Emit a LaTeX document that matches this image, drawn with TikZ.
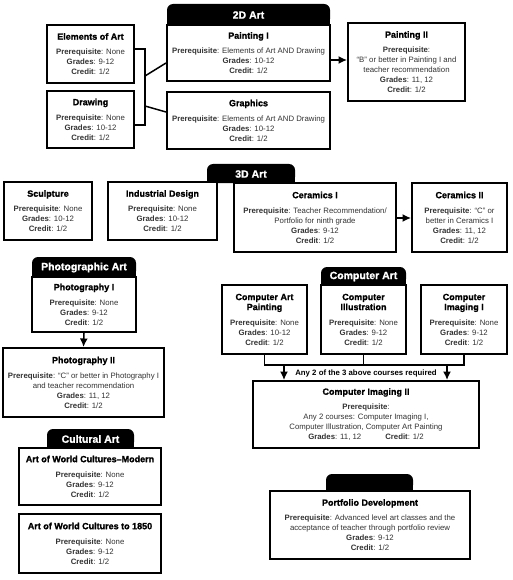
\documentclass[tikz,border=0pt]{standalone}
\usepackage{fontspec}
\setmainfont{Liberation Sans}
\newfontfamily\heavy{Liberation Sans Bold}[FakeBold=1.2]
\usetikzlibrary{arrows.meta}
\newcommand{\ttl}[1]{{\color{black}\fontsize{9}{10.5}\selectfont\heavy #1}}
\newcommand{\BX}[6]{\node[box, minimum width={#4-#2}, minimum height={#5-#3}] (#1) at ({(#2+#4)/2},{(#3+#5)/2}) {#6};}
\newcommand{\TB}[6]{%
  \fill[rounded corners=6pt] (#2,#3) rectangle (#4,#5);
  \fill (#2,{#5-7}) rectangle (#4,#5);
  \node[tablbl] (#1) at ({(#2+#4)/2},{(#3+#5)/2+0.5}) {#6};}
\begin{document}
\begin{tikzpicture}[x=1pt,y=-1pt,
  box/.style={draw, line width=2pt, fill=white, align=center, inner sep=0pt,
    font=\fontsize{7.8}{10}\selectfont, text=black!80},
  tablbl/.style={text=white, font=\fontsize{10.5}{12}\selectfont\heavy, inner sep=0pt},
  conn/.style={line width=1.5pt},
  arr/.style={line width=1.5pt, -{Latex[length=8.5pt,width=8pt]}}]
\useasboundingbox (0,0) rectangle (512,580);
\fill[white] (0,0) rectangle (512,580);
% tabs
\TB{t2d}{167}{4}{330}{25}{2D Art}
\TB{t3d}{207}{164}{295}{183}{3D Art}
\TB{tph}{32}{257}{136}{277}{Photographic Art}
\TB{tca}{321}{267}{406}{285}{Computer Art}
\TB{tcu}{47}{429}{134}{448}{Cultural Art}
\TB{tpo}{326}{474}{413}{491}{}
% boxes
\BX{elem}{47}{25}{134}{83}{\ttl{Elements of Art}\\[5pt]\textbf{Prerequisite}: None\\\textbf{Grades}: 9-12\\\textbf{Credit}: 1/2}
\BX{drw}{47}{91}{134}{148}{\ttl{Drawing}\\[5pt]\textbf{Prerequisite}: None\\\textbf{Grades}: 10-12\\\textbf{Credit}: 1/2}
\BX{paint1}{167}{25}{330}{81}{\ttl{Painting I}\\[5pt]\textbf{Prerequisite}: Elements of Art AND Drawing\\\textbf{Grades}: 10-12\\\textbf{Credit}: 1/2}
\BX{graph}{167}{92}{330}{149}{\ttl{Graphics}\\[5pt]\textbf{Prerequisite}: Elements of Art AND Drawing\\\textbf{Grades}: 10-12\\\textbf{Credit}: 1/2}
\BX{paint2}{348}{23}{465}{101}{\ttl{Painting II}\\[5pt]\textbf{Prerequisite}:\\“B” or better in Painting I and\\teacher recommendation\\\textbf{Grades}: 11, 12\\\textbf{Credit}: 1/2}
\BX{sculp}{4}{182}{92}{240}{\ttl{Sculpture}\\[5pt]\textbf{Prerequisite}: None\\\textbf{Grades}: 10-12\\\textbf{Credit}: 1/2}
\BX{indus}{108}{182}{217}{240}{\ttl{Industrial Design}\\[5pt]\textbf{Prerequisite}: None\\\textbf{Grades}: 10-12\\\textbf{Credit}: 1/2}
\BX{cer1}{234}{183}{396}{252}{\ttl{Ceramics I}\\[5pt]\textbf{Prerequisite}: Teacher Recommendation/\\Portfolio for ninth grade\\\textbf{Grades}: 9-12\\\textbf{Credit}: 1/2}
\BX{cer2}{412}{183}{507}{252}{\ttl{Ceramics II}\\[5pt]\textbf{Prerequisite}: “C” or\\better in Ceramics I\\\textbf{Grades}: 11, 12\\\textbf{Credit}: 1/2}
\BX{photo1}{32}{277}{136}{332}{\ttl{Photography I}\\[5pt]\textbf{Prerequisite}: None\\\textbf{Grades}: 9-12\\\textbf{Credit}: 1/2}
\BX{photo2}{3}{348}{164}{417}{\ttl{Photography II}\\[5pt]\textbf{Prerequisite}: “C” or better in Photography I\\and teacher recommendation\\\textbf{Grades}: 11, 12\\\textbf{Credit}: 1/2}
\BX{cap}{222}{285}{307}{354}{\ttl{Computer Art}\\\ttl{Painting}\\[5pt]\textbf{Prerequisite}: None\\\textbf{Grades}: 10-12\\\textbf{Credit}: 1/2}
\BX{cill}{321}{285}{406}{354}{\ttl{Computer}\\\ttl{Illustration}\\[5pt]\textbf{Prerequisite}: None\\\textbf{Grades}: 9-12\\\textbf{Credit}: 1/2}
\BX{cim1}{421}{285}{507}{354}{\ttl{Computer}\\\ttl{Imaging I}\\[5pt]\textbf{Prerequisite}: None\\\textbf{Grades}: 9-12\\\textbf{Credit}: 1/2}
\BX{cim2}{253}{381}{479}{448}{\ttl{Computer Imaging II}\\[5pt]\textbf{Prerequisite}:\\Any 2 courses: Computer Imaging I,\\Computer Illustration, Computer Art Painting\\\textbf{Grades}: 11, 12\hspace{24pt}\textbf{Credit}: 1/2}
\BX{awcm}{19}{448}{161}{505}{\ttl{Art of World Cultures–Modern}\\[5pt]\textbf{Prerequisite}: None\\\textbf{Grades}: 9-12\\\textbf{Credit}: 1/2}
\BX{awc}{19}{514}{161}{573}{\ttl{Art of World Cultures to 1850}\\[5pt]\textbf{Prerequisite}: None\\\textbf{Grades}: 9-12\\\textbf{Credit}: 1/2}
\BX{port}{270}{491}{470}{559}{\ttl{Portfolio Development}\\[5pt]\textbf{Prerequisite}: Advanced level art classes and the\\acceptance of teacher through portfolio review\\\textbf{Grades}: 9-12\\\textbf{Credit}: 1/2}
% connectors
\coordinate (b1) at (145,49);
\coordinate (b2) at (145,125);
\coordinate (bm1) at (145,76);
\coordinate (bm2) at (145,106);
\coordinate (p1a) at (0,63);
\coordinate (g1a) at (0,112);
\draw[conn] (elem.east |- b1) -- (b1) -- (b2) -- (drw.east |- b2);
\draw[conn] (bm1) -- (paint1.west |- p1a);
\draw[conn] (bm2) -- (graph.west |- g1a);
\coordinate (a1) at (0,60);
\draw[arr] (paint1.east |- a1) -- (paint2.west |- a1);
\coordinate (a2) at (0,218);
\draw[arr] (cer1.east |- a2) -- (cer2.west |- a2);
\draw[arr] (photo1.south) -- (photo2.north);
\coordinate (hb) at (0,365);
\draw[conn] (cap.south) -- (cap.south |- hb) -- (cim1.south |- hb) -- (cim1.south);
\draw[conn] (cill.south) -- (cill.south |- hb);
\coordinate (ar1) at (284,365);
\coordinate (ar2) at (447,365);
\draw[arr] (ar1) -- (cim2.north -| ar1);
\draw[arr] (ar2) -- (cim2.north -| ar2);
\node[font=\fontsize{7.8}{9}\selectfont\bfseries, inner sep=0pt] (anylbl) at (366,373.5) {Any 2 of the 3 above courses required};
\end{tikzpicture}
\end{document}
